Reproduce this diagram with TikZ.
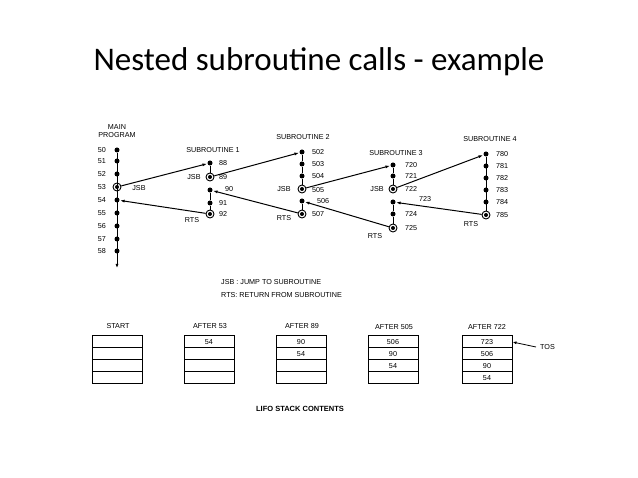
\documentclass[tikz,border=0pt]{standalone}
\usepackage{fontspec}
\setmainfont{Carlito}
\newfontfamily\lab{Liberation Sans}
\usetikzlibrary{arrows.meta}
\begin{document}
\begin{tikzpicture}[x=1pt,y=-1pt,
  dot/.style={circle,fill=black,inner sep=0,minimum size=5pt},
  ring/.style={circle,draw,line width=0.9pt,inner sep=0,minimum size=8pt,
     path picture={\fill (path picture bounding box.center) circle (2pt);}},
  num/.style={font=\lab\fontsize{7.2}{8}\selectfont,anchor=west,inner sep=1pt},
  lnum/.style={font=\lab\fontsize{7.2}{8}\selectfont,anchor=east,inner sep=1pt},
  ttl/.style={font=\lab\fontsize{7.2}{8}\selectfont,inner sep=0},
  call/.style={line width=1pt,-{Latex[length=5pt,width=3pt]}},
  cell/.style={draw,line width=1pt,minimum width=50pt,minimum height=12pt,inner sep=0,font=\lab\fontsize{7.2}{8}\selectfont}]
\useasboundingbox (0,0) rectangle (638,478);
\node[font=\fontsize{33}{36}\selectfont] (title) at (319,62) {Nested subroutine calls - example};
% main
\node[ttl,align=center] (mt) at (117,131) {MAIN\\PROGRAM};
\foreach \n/\y in {50/150,51/161,52/174,54/200,55/213,56/226,57/239,58/251}{
  \node[dot] (m\n) at (117,\y) {}; \node[lnum] at (107,\y) {\n};}
\node[ring] (m53) at (117,187) {}; \node[lnum] at (107,187) {53};
\coordinate (mend) at (117,268);
\draw[line width=1pt,-{Latex[length=4pt,width=3pt]}] (m50) -- (mend);
\node[ttl] (mj) at (139,188) {JSB};
% sub1
\node[ttl] (s1t) at (213,150) {SUBROUTINE 1};
\node[dot] (a88) at (210,163) {}; \node[ring] (a89) at (210,177) {};
\node[dot] (a90) at (210,190) {}; \node[dot] (a91) at (210,203) {}; \node[ring] (a92) at (210,214) {};
\draw[line width=1pt] (a88)--(a89) (a90)--(a91)--(a92);
\node[num] at (218,163) {88}; \node[num] at (218,177) {89}; \node[num] at (224,189) {90};
\node[num] at (218,203) {91}; \node[num] at (218,214) {92};
\node[ttl] at (194,177) {JSB}; \node[ttl] at (192,220) {RTS};
% sub2
\node[ttl] (s2t) at (303,137) {SUBROUTINE 2};
\node[dot] (b502) at (302,152) {}; \node[dot] (b503) at (302,164) {}; \node[dot] (b504) at (302,176) {};
\node[ring] (b505) at (302,189) {}; \node[dot] (b506) at (302,201) {}; \node[ring] (b507) at (302,214) {};
\draw[line width=1pt] (b502)--(b503)--(b504)--(b505) (b506)--(b507);
\node[num] at (311,152) {502}; \node[num] at (311,164) {503}; \node[num] at (311,176) {504};
\node[num] at (311,190) {505}; \node[num] at (316,201) {506}; \node[num] at (311,214) {507};
\node[ttl] at (284,189) {JSB}; \node[ttl] at (284,218) {RTS};
% sub3
\node[ttl] (s3t) at (396,153) {SUBROUTINE 3};
\node[dot] (c720) at (393,165) {}; \node[dot] (c721) at (393,176) {}; \node[ring] (c722) at (393,189) {};
\node[dot] (c723) at (393,202) {}; \node[dot] (c724) at (393,214) {}; \node[ring] (c725) at (393,228) {};
\draw[line width=1pt] (c720)--(c721)--(c722) (c723)--(c724)--(c725);
\node[num] at (404,165) {720}; \node[num] at (404,176) {721}; \node[num] at (404,189) {722};
\node[num] at (418,199) {723}; \node[num] at (404,214) {724}; \node[num] at (404,228) {725};
\node[ttl] at (377,189) {JSB}; \node[ttl] at (375,236) {RTS};
% sub4
\node[ttl] (s4t) at (490,139) {SUBROUTINE 4};
\foreach \n/\y in {780/154,781/166,782/178,783/190,784/202}{
  \node[dot] (d\n) at (486,\y) {}; \node[num] at (495,\y) {\n};}
\node[ring] (d785) at (486,215) {}; \node[num] at (495,215) {785};
\draw[line width=1pt] (d780)--(d785);
\node[ttl] at (471,224) {RTS};
% calls and returns
\draw[call] (m53) -- (a88);
\draw[call] (a89) -- (b502);
\draw[call] (b505) -- (c720);
\draw[call] (c722) -- (d780);
\draw[call] (a92) -- (m54);
\draw[call] (b507) -- (a90);
\draw[call] (c725) -- (b506);
\draw[call] (d785) -- (c723);
% legend
\node[ttl,anchor=west] (l1) at (221,282) {JSB : JUMP TO SUBROUTINE};
\node[ttl,anchor=west] (l2) at (221,295) {RTS: RETURN FROM SUBROUTINE};
% stacks
\node[ttl] (h1) at (118,326) {START};
\node[ttl] (h2) at (210,326) {AFTER 53};
\node[ttl] (h3) at (302,326) {AFTER 89};
\node[ttl] (h4) at (394,327) {AFTER 505};
\node[ttl] (h5) at (487,327) {AFTER 722};
\foreach \x/\a/\b/\c/\d/\t in {117/{}/{}/{}/{}/0,209/54/{}/{}/{}/1,301/90/54/{}/{}/2,393/506/90/54/{}/3,487/723/506/90/54/4}{
  \node[cell] (k\t a) at (\x,342) {\a};
  \node[cell] (k\t b) at (\x,354) {\b};
  \node[cell] (k\t c) at (\x,366) {\c};
  \node[cell] (k\t d) at (\x,378) {\d};}
\node[ttl,anchor=west] (tos) at (540,347) {TOS};
\coordinate (tosa) at (536,347);
\draw[line width=0.8pt,-{Latex[length=4pt,width=3pt]}] (tosa) -- (k4a.east);
\node[font=\lab\bfseries\fontsize{7.5}{8}\selectfont] (lifo) at (300,409) {LIFO STACK CONTENTS};
\end{tikzpicture}
\end{document}
